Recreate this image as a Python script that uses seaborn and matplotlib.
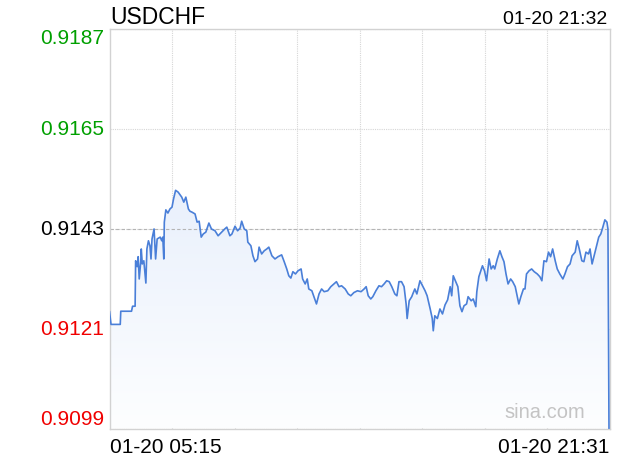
import numpy as np
import matplotlib
matplotlib.use("Agg")
import matplotlib.pyplot as plt
from matplotlib.colors import LinearSegmentedColormap
import seaborn as sns

symbol = "USDCHF"
header_time = "01-20 21:32"
start_label = "01-20 05:15"
end_label = "01-20 21:31"
watermark = "sina.com"

# minutes since 05:15
times = [0,3,21,22,43,45,50,51,54,56,
         58,61,62,64,67,71,73,76,79,81,
         83,87,90,93,99,102,104,106,107,110,
         114,118,122,125,129,134,141,145,149,154,
         157,161,167,171,175,179,183,188,194,199,
         206,212,219,225,229,235,239,245,250,255,
         258,263,268,270,276,280,284,289,292,297,
         302,307,311,317,323,329,336,341,346,350,
         354,358,363,368,374,377,382,386,389,395,
         399,404,409,414,419,426,432,438,443,448,
         453,460,466,471,477,484,491,497,501,505,
         510,514,520,526,531,536,541,546,551,557,
         561,565,570,575,579,581,585,590,592,596,
         600,606,611,616,620,626,630,632,635,640,
         645,650,655,660,665,668,671,676,680,684,
         688,692,697,700,706,710,715,717,721,728,
         732,736,741,745,749,752,757,762,766,770,
         774,778,783,787,792,796,799,803,808,811,
         814,819,824,829,835,840,844,848,853,857,
         861,865,870,874,879,885,889,894,899,903,
         909,913,917,922,926,930,935,938,942,946,
         951,955,959,963,967,971,973,975]

prices = [0.91248,0.91219,0.91219,0.91248,0.91248,0.91259,0.91259,0.91359,0.91346,0.91368,
          0.91319,0.91357,0.91385,0.91352,0.91359,0.91310,0.91385,0.91403,0.91392,0.91363,
          0.91407,0.91429,0.91363,0.91407,0.91411,0.91403,0.91411,0.91363,0.91444,0.91471,
          0.91464,0.91473,0.91477,0.91495,0.91514,0.91510,0.91499,0.91488,0.91499,0.91473,
          0.91468,0.91466,0.91462,0.91444,0.91446,0.91411,0.91418,0.91422,0.91442,0.91429,
          0.91425,0.91414,0.91422,0.91429,0.91433,0.91414,0.91418,0.91435,0.91425,0.91431,
          0.91446,0.91429,0.91425,0.91400,0.91392,0.91370,0.91357,0.91363,0.91389,0.91374,
          0.91381,0.91385,0.91389,0.91370,0.91363,0.91368,0.91372,0.91357,0.91341,0.91326,
          0.91321,0.91335,0.91330,0.91337,0.91341,0.91319,0.91308,0.91319,0.91297,0.91293,
          0.91280,0.91264,0.91286,0.91297,0.91291,0.91293,0.91302,0.91308,0.91313,0.91302,
          0.91304,0.91297,0.91286,0.91282,0.91289,0.91293,0.91291,0.91297,0.91302,0.91282,
          0.91275,0.91280,0.91293,0.91304,0.91302,0.91308,0.91315,0.91313,0.91302,0.91286,
          0.91282,0.91313,0.91313,0.91302,0.91264,0.91232,0.91271,0.91280,0.91286,0.91297,
          0.91286,0.91315,0.91304,0.91293,0.91282,0.91253,0.91232,0.91205,0.91238,0.91232,
          0.91253,0.91242,0.91262,0.91273,0.91302,0.91282,0.91326,0.91313,0.91302,0.91260,
          0.91247,0.91260,0.91264,0.91280,0.91271,0.91275,0.91258,0.91291,0.91324,0.91348,
          0.91337,0.91315,0.91363,0.91341,0.91348,0.91341,0.91363,0.91381,0.91368,0.91357,
          0.91330,0.91308,0.91319,0.91313,0.91302,0.91280,0.91264,0.91280,0.91297,0.91297,
          0.91330,0.91337,0.91341,0.91335,0.91330,0.91324,0.91315,0.91359,0.91357,0.91378,
          0.91368,0.91385,0.91359,0.91341,0.91330,0.91319,0.91330,0.91346,0.91352,0.91370,
          0.91378,0.91403,0.91385,0.91359,0.91357,0.91378,0.91374,0.91385,0.91352,0.91370,
          0.91392,0.91411,0.91418,0.91433,0.91449,0.91444,0.91429,0.90990]

y_ticks = [0.9187, 0.9165, 0.9143, 0.9121, 0.9099]
y_tick_labels = ["0.9187", "0.9165", "0.9143", "0.9121", "0.9099"]
prev_close = 0.9143
session_minutes = 976

sns.set_style("white")
plt.rcParams['font.family'] = ['Liberation Sans', 'DejaVu Sans']

fig = plt.figure(figsize=(6.2, 4.6), dpi=100)
ax = fig.add_axes([109.5/620, 1 - 429.5/460, 500/620, 400/460])

y_lo, y_hi = min(y_ticks), max(y_ticks)

# gradient fill under the line
fill = ax.fill_between(times, prices, y_lo, color='none', linewidth=0)
cmap = LinearSegmentedColormap.from_list("g", ["#fdfeff", "#dce7fa"])
grad = np.linspace(0, 1, 256).reshape(-1, 1)
im = ax.imshow(grad, extent=[0, session_minutes, y_lo, y_hi], origin='lower',
               aspect='auto', cmap=cmap, zorder=1, interpolation='bicubic')
im.set_clip_path(fill.get_paths()[0], transform=ax.transData)

sns.lineplot(x=times, y=prices, color='#4a7fd8', linewidth=1.2, ax=ax, zorder=3)

ax.set_xlim(0, session_minutes)
ax.set_ylim(y_lo, y_hi)

# grid
ax.set_xticks([session_minutes * k / 8 for k in range(1, 8)], minor=True)
ax.set_xticks([0, session_minutes])
ax.set_xticklabels([start_label, end_label])
for lbl, ha in zip(ax.get_xticklabels(), ['left', 'right']):
    lbl.set_horizontalalignment(ha)
ax.grid(which='minor', axis='x', color='#d6d6d6', linestyle=(0, (1, 1)), linewidth=0.8)
ax.set_yticks(y_ticks)
ax.set_yticklabels(y_tick_labels)
ax.grid(which='major', axis='y', color='#d6d6d6', linestyle=(0, (1, 1)), linewidth=0.8)
ax.grid(which='major', axis='x', visible=False)
ax.axhline(prev_close, color='#b4b4b4', linestyle=(0, (3, 2)), linewidth=0.8, zorder=2)

ax.tick_params(axis='both', which='both', length=0)
ax.tick_params(axis='y', pad=4, labelsize=15)
ax.tick_params(axis='x', pad=6, labelsize=15, colors='black')

colors = ['#00a000', '#00a000', '#000000', '#f00000', '#f00000']
vas = ['top', 'center', 'center', 'center', 'bottom']
for lbl, c, va in zip(ax.get_yticklabels(), colors, vas):
    lbl.set_color(c)
    lbl.set_verticalalignment(va)

for sp in ax.spines.values():
    sp.set_color('#d2d2d2')
    sp.set_linewidth(1.0)
    sp.set_visible(True)

fig.text(110/620, 1 - 24.5/460, symbol, fontsize=16.5, ha='left', va='baseline', color='black')
fig.text(607/620, 1 - 24.5/460, header_time, fontsize=14, ha='right', va='baseline', color='black')
ax.text(0.952, 0.042, watermark, transform=ax.transAxes, fontsize=14.5, color='#c4c4c4',
        ha='right', va='center')

fig.savefig("out.png", dpi=100)
